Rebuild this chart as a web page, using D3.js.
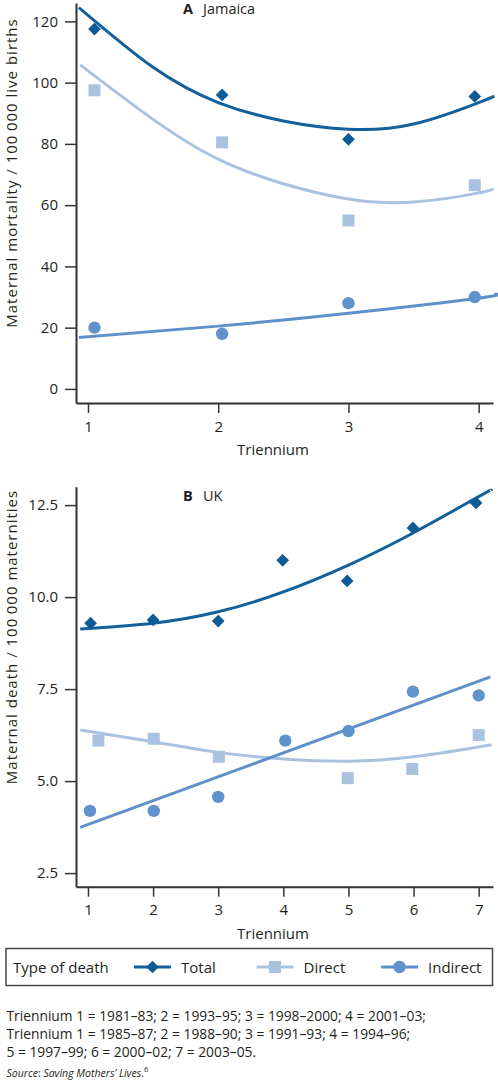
<!DOCTYPE html>
<html>
<head>
<meta charset="utf-8">
<script src="https://cdn.jsdelivr.net/npm/d3@7"></script>
<style>
  body { margin: 0; background: #fff; }
  svg { display: block; font-family: "Open Sans", sans-serif; }
</style>
</head>
<body>
<svg id="chart" width="498" height="1082"></svg>
<script>
// --- panel A: Jamaica ---
const ticksA = [1, 2, 3, 4];
const yTicksA = [0, 20, 40, 60, 80, 100, 120];
const xPosA = [1.05, 2.03, 3.0, 3.97];
const totalA = [117.5, 96, 81.5, 95.5];
const directA = [97.5, 80.5, 55, 66.5];
const indirectA = [20, 18, 28, 30];
// trend lines
const totalFitXA = [0.93, 1.5, 2, 2.5, 3, 3.5, 4, 4.12];
const totalFitA = [124.5, 105, 93.5, 87.5, 84.8, 86.5, 93.5, 95.6];
const directFitXA = [0.94, 1.5, 2, 2.5, 3, 3.5, 4, 4.11];
const directFitA = [105.8, 88, 75, 67, 62, 61, 64, 65.5];
const indirectFitXA = [0.93, 2, 3, 4, 4.12];
const indirectFitA = [16.8, 20.5, 24.7, 29.6, 31];

// --- panel B: UK ---
const ticksB = [1, 2, 3, 4, 5, 6, 7];
const yTicksB = [2.5, 5, 7.5, 10, 12.5];
const totalXB = [1.04, 2, 3, 3.99, 4.98, 5.99, 6.96];
const totalB = [9.29, 9.38, 9.35, 11.0, 10.44, 11.88, 12.56];
const directXB = [1.16, 2.01, 3.01, 4, 4.99, 5.98, 7.0];
const directB = [6.1, 6.15, 5.66, null, 5.08, 5.33, 6.25];
const indirectXB = [1.03, 2.01, 3.0, 4.03, 5.0, 5.99, 7.0];
const indirectB = [4.19, 4.19, 4.57, 6.1, 6.36, 7.43, 7.33];
const totalFitXB = [0.88, 2, 3, 4, 5, 6, 7, 7.19];
const totalFitB = [9.13, 9.29, 9.6, 10.14, 10.87, 11.75, 12.73, 12.9];
const directFitXB = [0.88, 2, 3, 4, 5, 6, 7, 7.17];
const directFitB = [6.39, 6.07, 5.78, 5.6, 5.54, 5.66, 5.93, 5.98];
const indirectFitXB = [0.88, 7.18];
const indirectFitB = [3.74, 7.83];

const seriesNames = ["Total", "Direct", "Indirect"];
const footnotes = [
    "Triennium 1 = 1981–83; 2 = 1993–95; 3 = 1998–2000; 4 = 2001–03;",
    "Triennium 1 = 1985–87; 2 = 1988–90; 3 = 1991–93; 4 = 1994–96;",
    "5 = 1997–99; 6 = 2000–02; 7 = 2003–05."
];

const colors = { Total: "#0f5b96", Direct: "#a8c2e0", Indirect: "#6092cc" };
const lineColors = { Total: "#14609b", Direct: "#a8c2e0", Indirect: "#5f90c9" };
const text_color = "#231f20";

const svg = d3.select("#chart");

function drawMarker(g, type, x, y) {
    if (type === "Total") {
        g.append("rect")
            .attr("x", x - 4.5).attr("y", y - 4.5)
            .attr("width", 9).attr("height", 9)
            .attr("transform", `rotate(45,${x},${y})`)
            .attr("fill", colors.Total);
    } else if (type === "Direct") {
        g.append("rect")
            .attr("x", x - 6).attr("y", y - 6)
            .attr("width", 12).attr("height", 12)
            .attr("fill", colors.Direct);
    } else {
        g.append("circle")
            .attr("cx", x).attr("cy", y).attr("r", 6.2)
            .attr("fill", colors.Indirect);
    }
}

function drawPanel(cfg) {
    const g = svg.append("g");
    const x = d3.scaleLinear().domain(cfg.xDomain).range([76, 493]);
    const y = d3.scaleLinear().domain(cfg.yDomain).range([cfg.bottom, cfg.top]);

    const yAxis = g.append("g")
        .attr("transform", "translate(76,0)")
        .call(d3.axisLeft(y).tickValues(cfg.yTicks).tickFormat(cfg.yFormat)
            .tickSize(11).tickSizeOuter(0).tickPadding(7));
    const xAxis = g.append("g")
        .attr("transform", `translate(0,${cfg.bottom})`)
        .call(d3.axisBottom(x).tickValues(cfg.xTicks).tickFormat(d3.format("d"))
            .tickSize(10).tickSizeOuter(0).tickPadding(8));
    [yAxis, xAxis].forEach(a => {
        a.select(".domain").attr("stroke", "#333").attr("stroke-width", 2);
        a.selectAll(".tick line").attr("stroke", "#333").attr("stroke-width", 1.5);
        a.selectAll(".tick text").attr("fill", text_color)
            .style("font-size", "15px").style("font-family", "Open Sans");
    });

    const line = d3.line()
        .defined(d => d[1] != null)
        .x(d => x(d[0])).y(d => y(d[1]))
        .curve(d3.curveNatural);

    // draw order: direct, indirect, total
    ["Direct", "Indirect", "Total"].forEach(name => {
        const s = cfg.series[name];
        g.append("path")
            .datum(d3.zip(s.fitX, s.fit))
            .attr("d", line)
            .attr("fill", "none")
            .attr("stroke", lineColors[name])
            .attr("stroke-width", 3);
    });
    ["Direct", "Indirect", "Total"].forEach(name => {
        const s = cfg.series[name];
        s.values.forEach((v, i) => {
            if (v != null) drawMarker(g, name, x(s.x[i]), y(v));
        });
    });

    const title = g.append("text")
        .attr("x", 183).attr("y", cfg.titleY)
        .attr("fill", text_color)
        .style("font-size", "14.5px");
    title.append("tspan").style("font-weight", "bold").text(cfg.letter);
    title.append("tspan").attr("x", 203).text(cfg.name);

    g.append("text")
        .attr("x", 273).attr("y", cfg.xLabelY)
        .attr("text-anchor", "middle")
        .attr("fill", text_color)
        .style("font-size", "15px")
        .text("Triennium");

    g.append("text")
        .attr("transform", `translate(16.5,${cfg.yLabelMid}) rotate(-90)`)
        .attr("text-anchor", "middle")
        .attr("fill", text_color)
        .style("font-size", "15px")
        .style("letter-spacing", "1px")
        .text(cfg.yLabel);
}

drawPanel({
    xDomain: [0.908, 4.11], yDomain: [-4.6, 126], top: 3, bottom: 403,
    xTicks: ticksA, yTicks: yTicksA, yFormat: d3.format("d"),
    letter: "A", name: "Jamaica", titleY: 14,
    xLabelY: 455, yLabelMid: 173,
    yLabel: "Maternal mortality / 100\u2009000  live births",
    series: {
        Total: { x: xPosA, values: totalA, fitX: totalFitXA, fit: totalFitA },
        Direct: { x: xPosA, values: directA, fitX: directFitXA, fit: directFitA },
        Indirect: { x: xPosA, values: indirectA, fitX: indirectFitXA, fit: indirectFitA }
    }
});

drawPanel({
    xDomain: [0.816, 7.22], yDomain: [2.13, 13.0], top: 486.7, bottom: 886.7,
    xTicks: ticksB, yTicks: yTicksB, yFormat: d3.format(".1f"),
    letter: "B", name: "UK", titleY: 501,
    xLabelY: 939, yLabelMid: 637,
    yLabel: "Maternal death / 100\u2009000  maternities",
    series: {
        Total: { x: totalXB, values: totalB, fitX: totalFitXB, fit: totalFitB },
        Direct: { x: directXB, values: directB, fitX: directFitXB, fit: directFitB },
        Indirect: { x: indirectXB, values: indirectB, fitX: indirectFitXB, fit: indirectFitB }
    }
});

// legend
const legend = svg.append("g");
legend.append("rect")
    .attr("x", 6).attr("y", 948.5).attr("width", 486.5).attr("height", 37)
    .attr("fill", "none").attr("stroke", "#444").attr("stroke-width", 1.5);
legend.append("text")
    .attr("x", 13).attr("y", 973)
    .attr("fill", text_color).style("font-size", "15px")
    .text("Type of death");
const legendX = [134, 256.5, 381];
seriesNames.forEach((name, i) => {
    const lx = legendX[i];
    legend.append("line")
        .attr("x1", lx).attr("x2", lx + 37)
        .attr("y1", 967).attr("y2", 967)
        .attr("stroke", lineColors[name]).attr("stroke-width", 3);
    drawMarker(legend, name, lx + 18.5, 967);
    legend.append("text")
        .attr("x", lx + 47).attr("y", 973)
        .attr("fill", text_color).style("font-size", "15px")
        .text(name);
});

// footnotes
const notes = svg.append("g").attr("fill", text_color);
footnotes.forEach((t, i) => {
    notes.append("text")
        .attr("x", 6.5).attr("y", 1020.5 + i * 18)
        .style("font-size", "13.8px")
        .text(t);
});
const src = notes.append("text")
    .attr("x", 6.5).attr("y", 1077)
    .style("font-size", "10.5px");
src.append("tspan").style("font-style", "italic").text("Source");
src.append("tspan").text(": ");
src.append("tspan").style("font-style", "italic").text("Saving Mothers’ Lives");
src.append("tspan").text(".");
src.append("tspan").attr("dy", -5).style("font-size", "7.5px").text("6");
</script>
</body>
</html>
